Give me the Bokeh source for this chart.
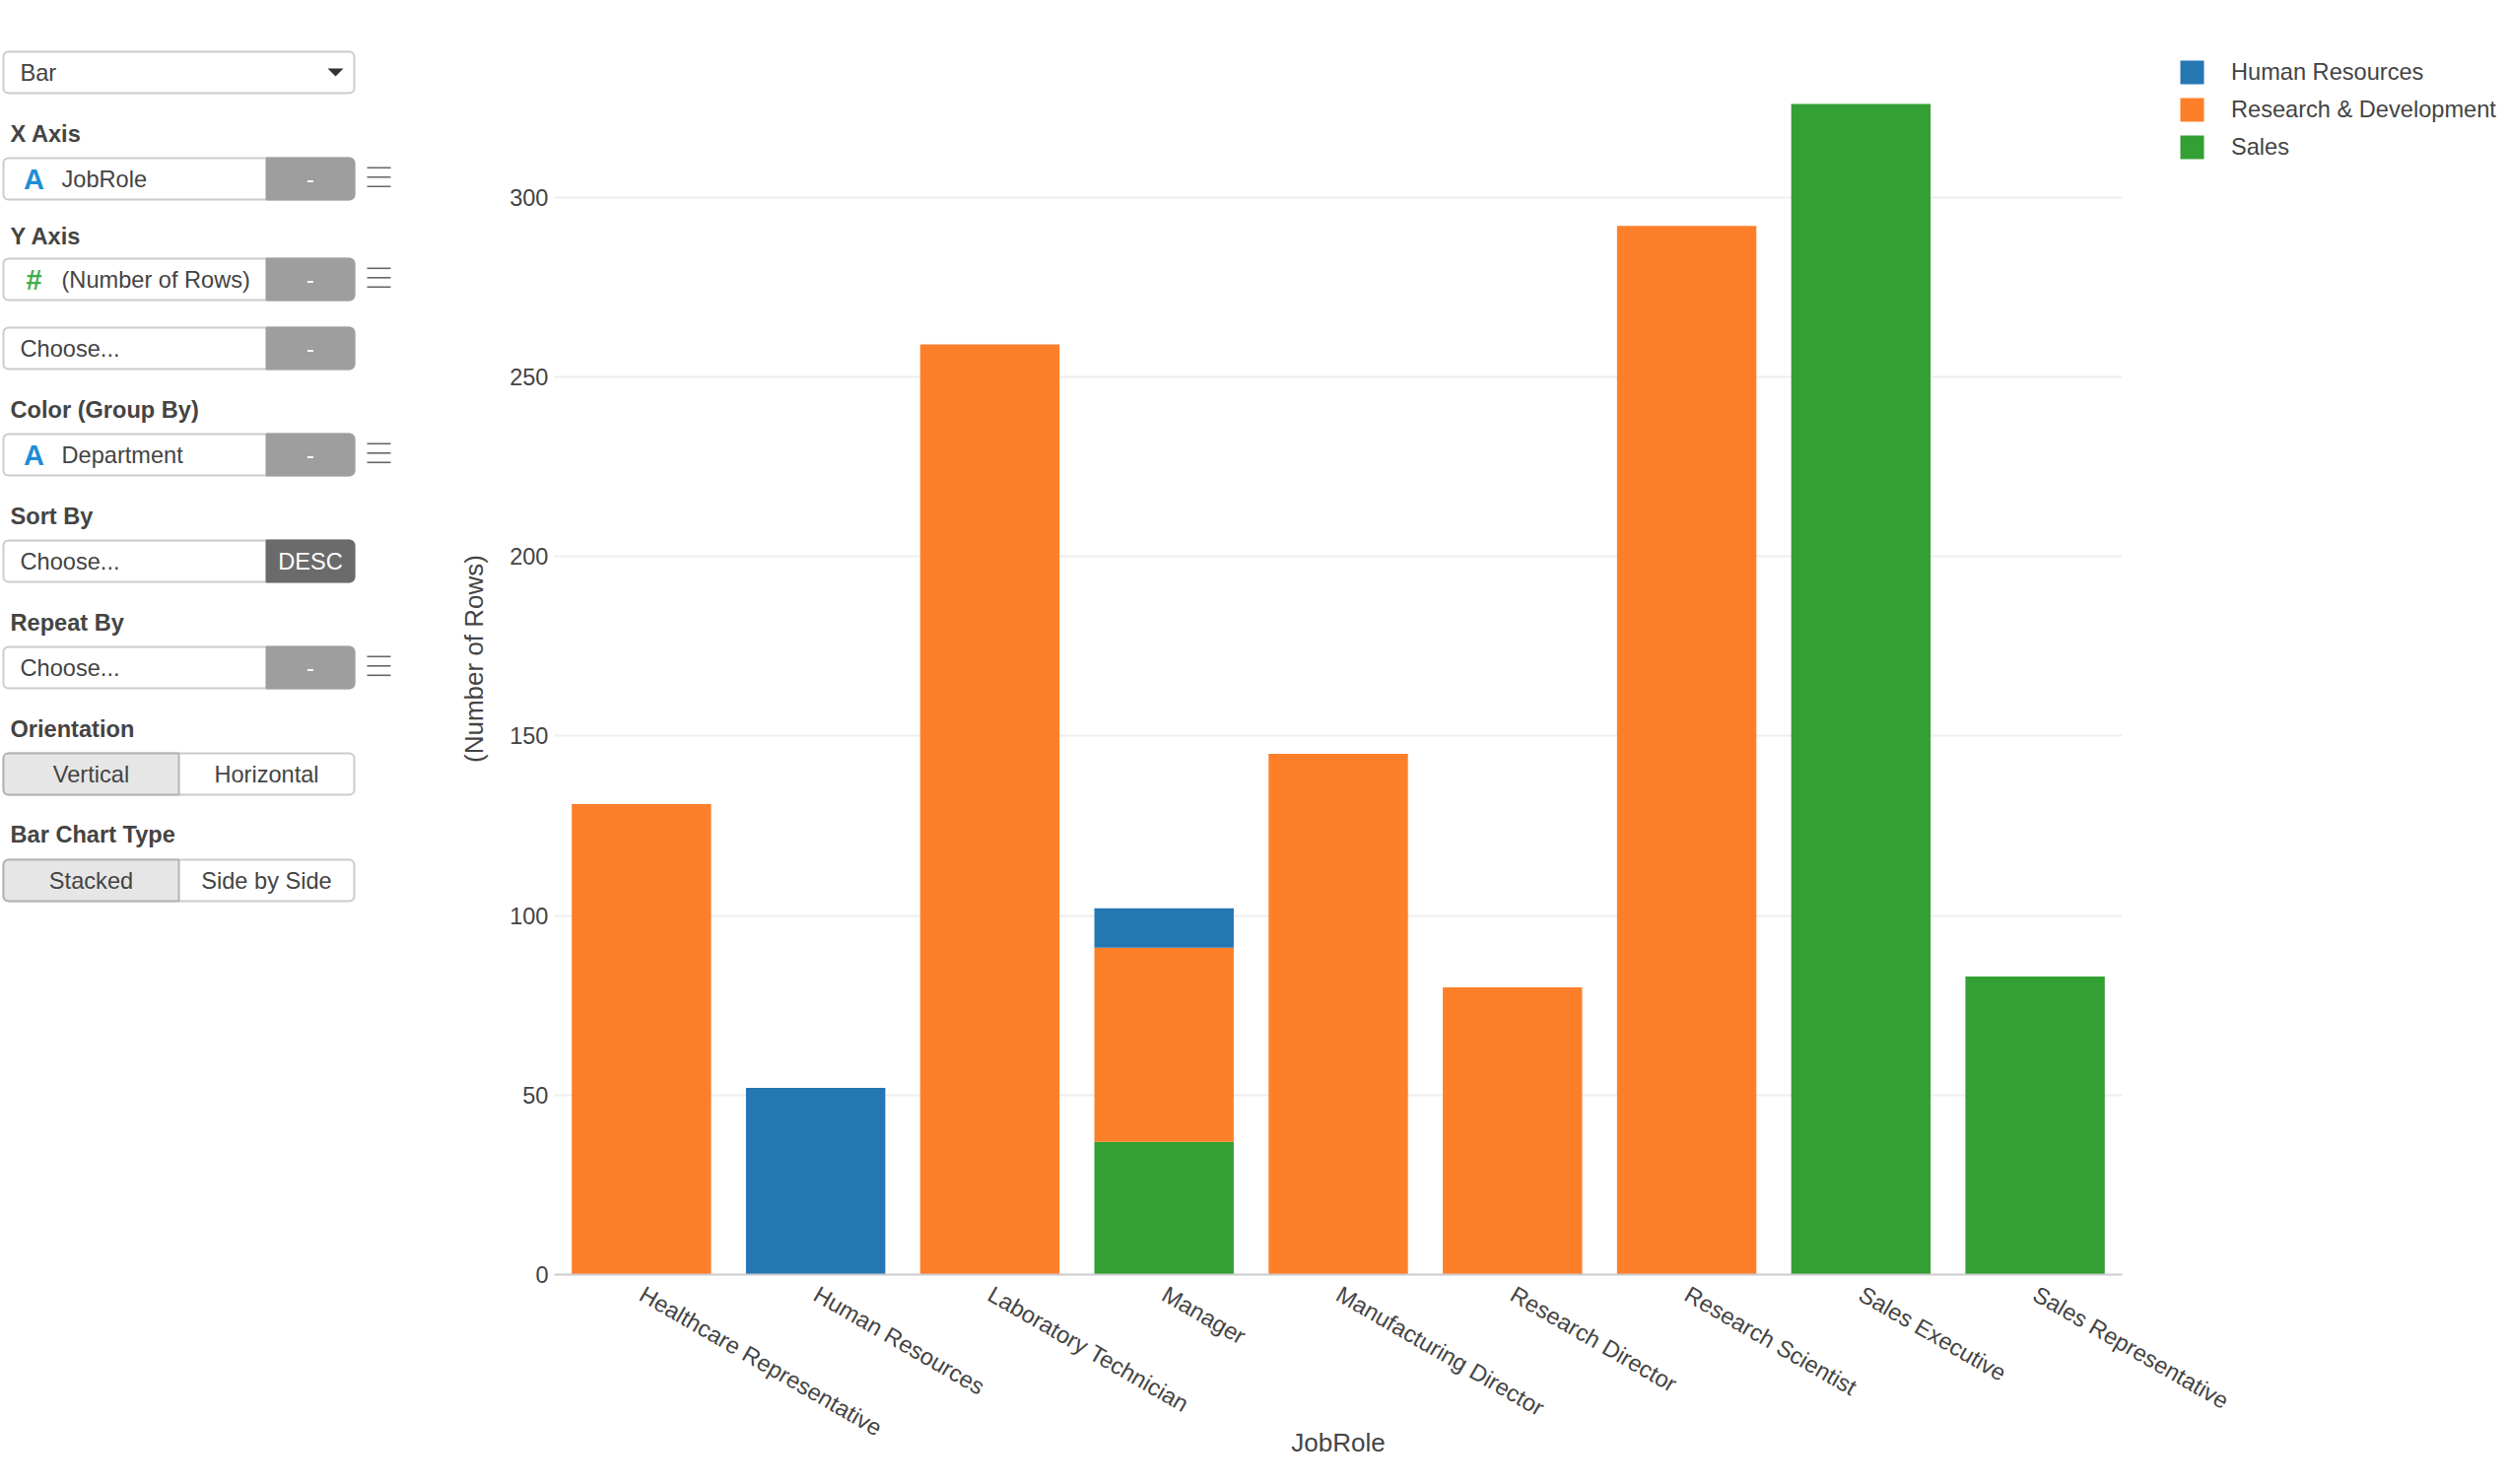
import math

from bokeh.core.properties import value
from bokeh.embed import file_html
from bokeh.layouts import row
from bokeh.models import (
    FactorRange,
    FixedTicker,
    Legend,
    LegendItem,
    Range1d,
)
from bokeh.plotting import figure
from bokeh.resources import INLINE

# chart data
job_roles = [
    "Healthcare Representative",
    "Human Resources",
    "Laboratory Technician",
    "Manager",
    "Manufacturing Director",
    "Research Director",
    "Research Scientist",
    "Sales Executive",
    "Sales Representative",
]
sales = [0, 0, 0, 37, 0, 0, 0, 326, 83]
research = [131, 0, 259, 54, 145, 80, 292, 0, 0]
human_res = [0, 52, 0, 11, 0, 0, 0, 0, 0]
y_ticks = [0, 50, 100, 150, 200, 250, 300]

departments = ["Sales", "Research & Development", "Human Resources"]
dept_colors = ["#339f34", "#fe7f2a", "#2577b2"]

FONT = "Liberation Sans"
TEXT_SIZE = "23.6px"
TITLE_SIZE = "26px"
TEXT_COLOR = "#444444"
SIDEBAR_WIDTH = 404

source = dict(role=job_roles)
source["Sales"] = sales
source["Research & Development"] = research
source["Human Resources"] = human_res

p = figure(
    x_range=FactorRange(*job_roles, range_padding=0),
    y_range=Range1d(0, 343),
    frame_width=1591,
    frame_height=1250,
    min_border_left=562 - SIDEBAR_WIDTH,
    min_border_right=393,
    min_border_top=43,
    min_border_bottom=0,
    output_backend="svg",
    toolbar_location=None,
    x_axis_label="JobRole",
    y_axis_label="(Number of Rows)",
)
p.outline_line_color = None
p.background_fill_color = "white"

bars = p.vbar_stack(
    departments, x="role", width=0.8, color=dept_colors, source=source, line_width=0
)

p.xgrid.grid_line_color = None
p.ygrid.grid_line_color = "#eeeeee"
p.ygrid.grid_line_width = 2
p.yaxis.ticker = FixedTicker(ticks=y_ticks)
p.yaxis.axis_line_color = None
p.yaxis.major_tick_line_color = None
p.yaxis.minor_tick_line_color = None
p.yaxis.major_label_standoff = 0
p.xaxis.axis_line_color = "#cccccc"
p.xaxis.axis_line_width = 2
p.xaxis.major_tick_line_color = None
p.xaxis.major_label_orientation = -math.pi / 6
p.xaxis.major_label_standoff = 12
p.xaxis.axis_label_standoff = -28
p.yaxis.axis_label_standoff = 18
for axis in (p.xaxis[0], p.yaxis[0]):
    axis.major_label_text_font = FONT
    axis.major_label_text_font_size = TEXT_SIZE
    axis.major_label_text_color = TEXT_COLOR
    axis.axis_label_text_font = FONT
    axis.axis_label_text_font_size = TITLE_SIZE
    axis.axis_label_text_color = TEXT_COLOR
    axis.axis_label_text_font_style = "normal"

legend = Legend(
    items=[LegendItem(label=d, renderers=[r]) for d, r in zip(departments, bars)][::-1],
    location=(56, 1129),
    padding=0,
    margin=0,
    spacing=8,
    glyph_width=30,
    glyph_height=30,
    label_standoff=25,
    border_line_color=None,
    background_fill_color=None,
    label_text_font=FONT,
    label_text_font_size=TEXT_SIZE,
    label_text_color=TEXT_COLOR,
)
p.add_layout(legend, "right")

# sidebar controls, its ranges are the page pixels
side = figure(
    x_range=Range1d(0, SIDEBAR_WIDTH),
    y_range=Range1d(1500, 0),
    frame_width=SIDEBAR_WIDTH,
    frame_height=1500,
    min_border=0,
    x_axis_location=None,
    y_axis_location=None,
    output_backend="svg",
    toolbar_location=None,
)
side.grid.visible = False
side.outline_line_color = None

BLUE = "#1f8dd6"
GREEN = "#3fae49"


def box(left, right, top, bottom, fill="white", line="#cccccc", radius=5):
    side.quad(
        left=[left], right=[right], top=[top], bottom=[bottom],
        fill_color=fill, line_color=line, line_width=2, border_radius=radius,
    )


def text(x, y, label, color=TEXT_COLOR, style="normal", align="left", size=TEXT_SIZE):
    side.text(
        x=[x], y=[y], text=[label], text_font=value(FONT), text_font_size=size,
        text_color=color, text_font_style=style, text_align=align,
        text_baseline="middle",
    )


def menu_icon(top):
    for dy in (0, 9.5, 19):
        side.quad(left=[372], right=[396], top=[top + dy], bottom=[top + dy + 1.6],
                  fill_color="#666666", line_color=None)


def selector(top, label, icon=None, icon_color=None, menu=False, dark=None):
    bottom = top + 42
    box(3, 359, top, bottom)
    fill = "#6b6b6b" if dark else "#9e9e9e"
    box(270, 359, top, bottom, fill=fill, line=fill, radius=(0, 5, 5, 0))
    text(314.5, top + 21, dark or "-", color="white", align="center")
    if icon:
        text(34, top + 21, icon, color=icon_color, style="bold", align="center", size="29px")
        text(62, top + 21, label)
    else:
        text(20, top + 21, label)
    if menu:
        menu_icon(top + 9)


def toggle(top, first, second):
    bottom = top + 42
    box(3, 359, top, bottom)
    box(3, 181, top, bottom, fill="#e6e6e6", line="#b3b3b3", radius=(5, 0, 0, 5))
    text(92, top + 21, first, align="center")
    text(270, top + 21, second, align="center")


box(3, 359, 9, 51)
text(20, 30, "Bar")
side.patch(x=[332, 348, 340], y=[26, 26, 34], fill_color="#333333", line_color=None)

text(10, 92, "X Axis", style="bold")
selector(117, "JobRole", "A", BLUE, menu=True)
text(10, 196, "Y Axis", style="bold")
selector(219, "(Number of Rows)", "#", GREEN, menu=True)
selector(289, "Choose...")
text(10, 372, "Color (Group By)", style="bold")
selector(397, "Department", "A", BLUE, menu=True)
text(10, 480, "Sort By", style="bold")
selector(505, "Choose...", dark="DESC")
text(10, 588, "Repeat By", style="bold")
selector(613, "Choose...", menu=True)
text(10, 696, "Orientation", style="bold")
toggle(721, "Vertical", "Horizontal")
text(10, 803, "Bar Chart Type", style="bold")
toggle(829, "Stacked", "Side by Side")

page = row(side, p, spacing=0)
open("out.html", "w").write(file_html(page, INLINE))
